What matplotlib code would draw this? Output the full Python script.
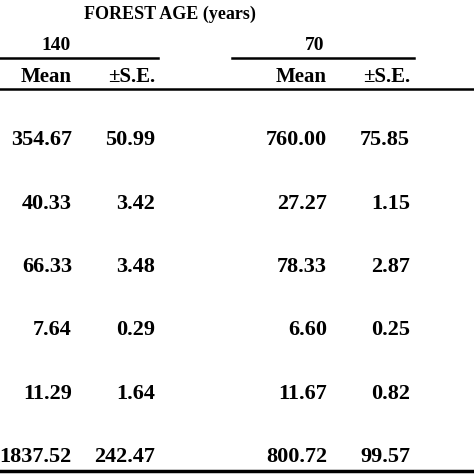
import matplotlib.pyplot as plt

plt.rcParams['font.family'] = ['Liberation Serif', 'DejaVu Serif']

title = 'FOREST AGE (years)'
ages = ['140', '70']
mean_140 = ['354.67', '40.33', '66.33', '7.64', '11.29', '1837.52']
se_140 = ['50.99', '3.42', '3.48', '0.29', '1.64', '242.47']
mean_70 = ['760.00', '27.27', '78.33', '6.60', '11.67', '800.72']
se_70 = ['75.85', '1.15', '2.87', '0.25', '0.82', '99.57']

fig = plt.figure(figsize=(4.74, 4.74), dpi=100)
ax = fig.add_axes([0, 0, 1, 1])
ax.set_xlim(0, 474)
ax.set_ylim(474, 0)
ax.axis('off')

kw = dict(fontweight='bold', color='black')
ax.text(170, 14, title, ha='center', va='center', fontsize=13, **kw)
ax.text(56, 45, ages[0], ha='center', va='center', fontsize=14, **kw)
ax.text(315, 45, ages[1], ha='center', va='center', fontsize=14, **kw)
ax.plot([0, 158], [58, 58], color='black', lw=1.8)
ax.plot([232, 414], [58, 58], color='black', lw=1.8)

# column right edges
cols = [72, 155, 327, 410]
for x, lab in zip(cols, ['Mean', '±S.E.', 'Mean', '±S.E.']):
    ax.text(x, 77, lab, ha='right', va='center', fontsize=15, **kw)
ax.plot([0, 474], [89, 89], color='black', lw=1.8)

row_y = [140, 204, 267, 330, 394, 457]
for data, x in zip([mean_140, se_140, mean_70, se_70], cols):
    for y, v in zip(row_y, data):
        ax.text(x, y, v, ha='right', va='center', fontsize=16, **kw)
ax.plot([0, 474], [471, 471], color='black', lw=2.5)

fig.savefig('out.png', dpi=100)
